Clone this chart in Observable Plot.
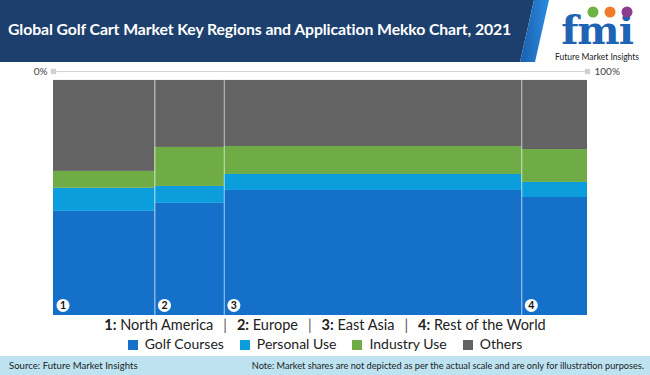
<!DOCTYPE html>
<html>
<head>
<meta charset="utf-8">
<script src="https://cdn.jsdelivr.net/npm/d3@7"></script>
<script src="https://cdn.jsdelivr.net/npm/@observablehq/plot@0.6"></script>
<style>
  html, body { margin: 0; padding: 0; background: #fff; }
  body { width: 650px; height: 375px; position: relative; overflow: hidden; font-family: Lato, "Open Sans", sans-serif; }
  #banner { position: absolute; left: 0; top: 0; width: 650px; height: 62px; }
  #title { position: absolute; left: 8px; top: 19px; color: #fff; font-weight: 700; font-size: 15.8px; white-space: nowrap; letter-spacing: -0.1px; }
  #chart { position: absolute; left: 0; top: 62px; }
  #legend1 { position: absolute; left: 0; top: 316px; width: 650px; text-align: center; font-size: 14.5px; color: #222; white-space: nowrap; }
  #legend1 b { font-weight: 700; }
  #legend1 .sep { color: #555; margin: 0 10px; }
  #legend2 { position: absolute; left: 0; top: 335px; width: 650px; text-align: center; font-size: 14px; color: #222; white-space: nowrap; }
  .sw { display: inline-block; width: 10px; height: 10px; margin: 0 7px 0 16px; vertical-align: -1px; }
  #footer { position: absolute; left: 0; top: 356px; width: 650px; height: 19px; background: #bde3f1; font-size: 9.6px; color: #222; }
  #footer .src { position: absolute; left: 9px; top: 4px; }
  #footer .note { position: absolute; right: 6px; top: 4px; font-size: 9.2px; }
</style>
</head>
<body>
<svg id="banner" width="650" height="62">
  <defs>
    <linearGradient id="stripe" x1="0" x2="1" y1="0" y2="0">
      <stop offset="0" stop-color="#1a5fae"/>
      <stop offset="1" stop-color="#2b8be0"/>
    </linearGradient>
  </defs>
  <polygon points="0,0 534,0 520,62 0,62" fill="#1c3f6d"/>
  <polygon points="534,0 549,0 535,62 520,62" fill="url(#stripe)"/>
  <text x="597" y="44" text-anchor="middle" font-family="'DejaVu Serif', serif" font-weight="700" font-size="40" fill="#1e63b4" letter-spacing="-1">fmi</text>
  <circle cx="593" cy="12" r="5.5" fill="#6db443"/>
  <circle cx="610" cy="12" r="5.5" fill="#f07b2a"/>
  <circle cx="627" cy="12" r="5.5" fill="#8c3b8f"/>
  <text x="597" y="60" text-anchor="middle" font-family="Lato, sans-serif" font-size="8.5" fill="#222">Future Market Insights</text>
</svg>
<div id="title">Global Golf Cart Market Key Regions and Application Mekko Chart, 2021</div>
<div id="chart"></div>
<div id="legend1"><b>1:</b> North America<span class="sep">|</span><b>2:</b> Europe<span class="sep">|</span><b>3:</b> East Asia<span class="sep">|</span><b>4:</b> Rest of the World</div>
<div id="legend2"></div>
<div id="footer"><span class="src">Source: Future Market Insights</span><span class="note">Note: Market shares are not depicted as per the actual scale and are only for illustration purposes.</span></div>
<script>
// ---- data ----
const regions = ["North America", "Europe", "East Asia", "Rest of the World"];
const regionNumbers = ["1", "2", "3", "4"];
const regionWidths = [19, 13, 55.7, 12.3];           // % of market (column widths)
const applications = ["Golf Courses", "Personal Use", "Industry Use", "Others"];
const golfCourses = [44.3, 47.7, 53.2, 50.2];
const personalUse = [9.8, 7.2, 6.8, 6.4];
const industryUse = [7.2, 16.6, 11.9, 14.0];
const others = [38.7, 28.5, 28.1, 29.4];
const axisTicks = [0, 100];
const colors = ["#1570c9", "#0b9ddc", "#6fac46", "#636363"];

// ---- build mekko table ----
const series = [golfCourses, personalUse, industryUse, others];
const cells = [];
const cols = [];
let xc = 0;
regions.forEach((r, i) => {
  const x1 = xc, x2 = xc + regionWidths[i];
  cols.push({region: r, num: regionNumbers[i], x1, x2});
  let yc = 0;
  applications.forEach((a, j) => {
    const v = series[j][i];
    cells.push({region: r, app: a, x1, x2, y1: yc, y2: yc + v});
    yc += v;
  });
  xc = x2;
});
const axisY = 103.8;

const chart = Plot.plot({
  width: 650,
  height: 256,
  marginLeft: 53,
  marginRight: 63,
  marginTop: 5,
  marginBottom: 3,
  x: {domain: [0, 100], axis: null},
  y: {domain: [0, 105.5], axis: null},
  color: {domain: applications, range: colors},
  style: {fontFamily: "Lato, sans-serif", background: "transparent"},
  marks: [
    Plot.rect(cells, {x1: "x1", x2: "x2", y1: "y1", y2: "y2", fill: "app"}),
    Plot.ruleX(cols.slice(1), {x: "x1", y1: 0, y2: 100, stroke: "#ffffff", strokeOpacity: 0.55, strokeWidth: 1}),
    Plot.ruleY([axisY], {x1: 0, x2: 100, stroke: "#d4d4d4", strokeWidth: 1}),
    Plot.dot(axisTicks, {x: d => d, y: axisY, symbol: "square", r: 3, fill: "#d0d0d0"}),
    Plot.text([axisTicks[0]], {x: d => d, y: axisY, text: d => d + "%", textAnchor: "end", dx: -6, fontSize: 10, fill: "#444"}),
    Plot.text([axisTicks[1]], {x: d => d, y: axisY, text: d => d + "%", textAnchor: "start", dx: 7, fontSize: 10, fill: "#444"}),
    Plot.dot(cols, {x: "x1", y: 4.3, dx: 9.5, r: 6.5, fill: "#fff", stroke: "none"}),
    Plot.text(cols, {x: "x1", y: 4.3, dx: 9.5, dy: 0.5, text: "num", fontSize: 10.5, fontWeight: 700, fill: "#111"})
  ]
});
document.getElementById("chart").appendChild(chart);

// legend 2
const leg = document.getElementById("legend2");
applications.forEach((a, j) => {
  const s = document.createElement("span");
  s.className = "sw"; s.style.background = colors[j];
  if (j === 0) s.style.marginLeft = "0px";
  leg.appendChild(s);
  leg.appendChild(document.createTextNode(a));
});
</script>
</body>
</html>
